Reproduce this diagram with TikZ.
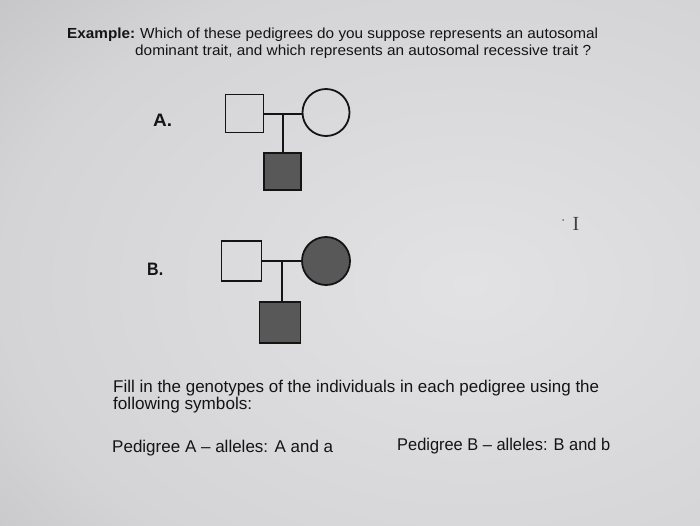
\documentclass[tikz,border=0pt]{standalone}
\usepackage{fontspec}
\setmainfont{Liberation Sans}
\newfontfamily\cursorfont{Liberation Serif}
\usetikzlibrary{calc}
\definecolor{ink}{HTML}{141414}
\definecolor{affected}{HTML}{585858}
\definecolor{bgin}{HTML}{E2E2E4}
\definecolor{bgmid}{HTML}{D4D4D6}
\definecolor{bgedge}{HTML}{BCBBBC}
\definecolor{bgout}{HTML}{9A9898}
\definecolor{bgfar}{HTML}{8A8888}
\pgfdeclareradialshading{paper}{\pgfpoint{0bp}{0bp}}{color(0bp)=(bgin); color(18bp)=(bgmid); color(29bp)=(bgedge); color(40bp)=(bgout); color(50bp)=(bgfar)}
\newsavebox\fitbox
\newcommand\fitw[2]{\sbox\fitbox{#2}\pgfmathsetmacro\fitfac{#1/\wd\fitbox}\scalebox{\fitfac}[1]{\usebox\fitbox}}
\begin{document}
\begin{tikzpicture}[x=1pt,y=-1pt,
  txt/.style={inner sep=0pt, anchor=base west, text=ink},
  ttl/.style={txt, font=\fontsize{14.6}{16}\selectfont},
  body/.style={txt, font=\fontsize{17}{20}\selectfont},
  lbl/.style={txt, font=\fontsize{18}{20}\selectfont\bfseries},
  male/.style={draw=ink, line width=1.8pt, rectangle, inner sep=0pt, minimum size=#1},
  female/.style={draw=ink, line width=1.8pt, circle, inner sep=0pt, minimum size=#1},
  link/.style={draw=ink, line width=2pt}]
\useasboundingbox (0,0) rectangle (700,525);
\begin{scope}
  \clip (0,0) rectangle (700,525);
  \shade[shading=paper] (470,285) ellipse [x radius=650, y radius=450];
\end{scope}

% title
\node[ttl, font=\fontsize{14.6}{16}\selectfont\bfseries] (ex) at (67,38.7) {\fitw{68}{Example:}};
\node[ttl] (q1) at (140,38.7) {\fitw{458}{Which of these pedigrees do you suppose represents an autosomal}};
\node[ttl] (q2) at (135,55.5) {\fitw{456}{dominant trait, and which represents an autosomal recessive trait ?}};

% pedigree A
\node[lbl] (la) at (153,126) {\fitw{19}{A.}};
\node[male=38pt] (fA) at (244.5,113.5) {};
\node[female=47pt] (mA) at (326,112.5) {};
\node[male=37pt, fill=affected] (cA) at (282.5,171.5) {};
\draw[link] (fA.east) -- (fA.east -| mA.west) coordinate[pos=0.5] (jA);
\draw[link] (jA) -- (jA |- cA.north);

% pedigree B
\node[lbl] (lb) at (147,275) {\fitw{16}{B.}};
\node[male=40pt] (fB) at (241.5,261) {};
\node[female=48pt, fill=affected] (mB) at (326,261) {};
\node[male=41pt, fill=affected] (cB) at (280,322.5) {};
\draw[link] (fB.east) -- (fB.east -| mB.west) coordinate[pos=0.5] (jB);
\draw[link] (jB) -- (jB |- cB.north);

% text cursor
\node[circle, fill=black!55, inner sep=0pt, minimum size=2pt] (dot) at (563,220) {};
\node[txt, text=black!75, font=\cursorfont\fontsize{20}{20}\selectfont] (cur) at (572.5,230) {I};

% instructions
\node[body] (f1) at (113,392) {\fitw{486}{Fill in the genotypes of the individuals in each pedigree using the}};
\node[body] (f2) at (113,409) {\fitw{139}{following symbols:}};
\node[body] (pa) at (112,452) {\fitw{221}{Pedigree A -- alleles: A and a}};
\node[body] (pb) at (397,450) {\fitw{213}{Pedigree B -- alleles: B and b}};
\end{tikzpicture}
\end{document}
